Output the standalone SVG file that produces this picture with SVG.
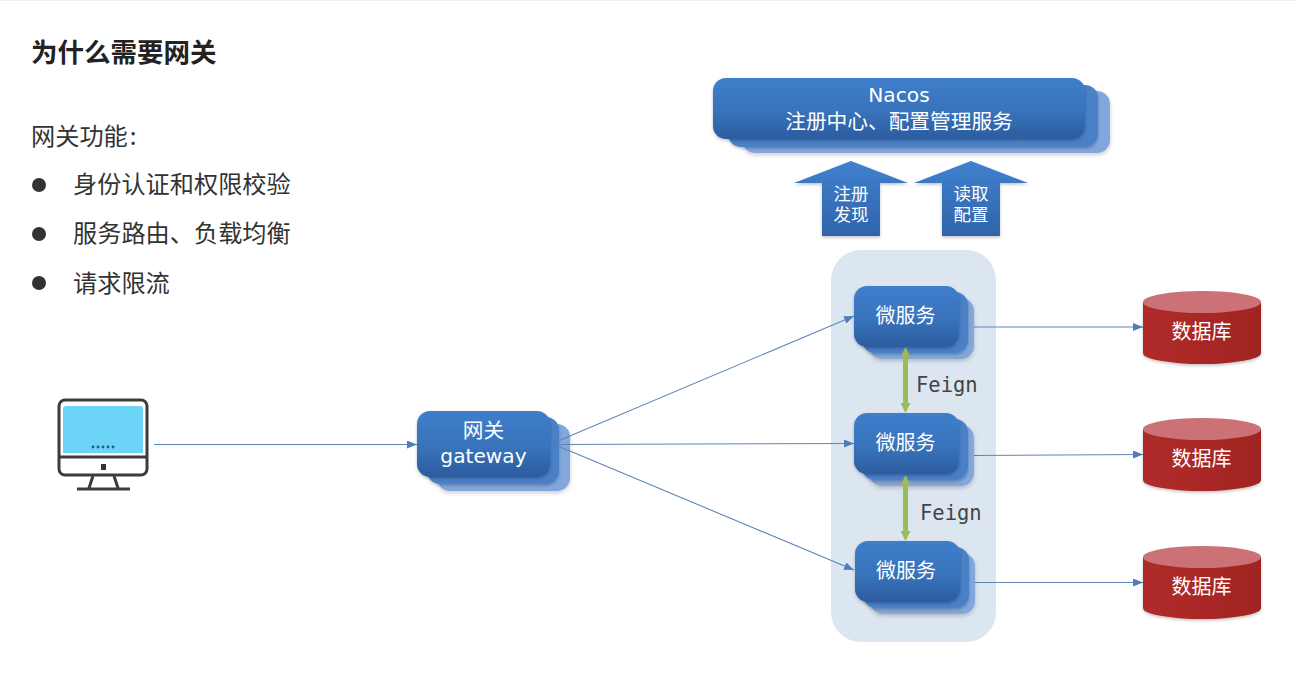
<svg xmlns="http://www.w3.org/2000/svg" width="1296" height="688" viewBox="0 0 1296 688">
<style>
text{font-family:"Noto Sans CJK SC","Noto Sans",sans-serif}
.h{font-size:26.500px;font-weight:700;fill:#222}
.b{font-size:24.200px;fill:#333}
.w{fill:#fff;text-anchor:middle}
.n{font-size:20.700px}
.l{font-family:"DejaVu Sans",sans-serif;font-size:20.200px}
.s{font-size:17.500px}
.u{font-size:20px}
.f{font-family:"DejaVu Sans Mono","Liberation Mono",monospace;font-size:20.500px;fill:#444}
.c{stroke:#5f86b8;stroke-width:1.1;fill:none;marker-end:url(#a)}
.g{stroke:#9bbb59;stroke-width:5;fill:none}
.gh{fill:#9bbb59}
.fr{fill:url(#fg);filter:url(#sh)}
.mid{fill:#4a80c8;filter:url(#sh)}
.bk{fill:#82a7dc;filter:url(#sh2)}
.ar{fill:url(#ag);filter:url(#sh)}
.dbb{fill:url(#dg);filter:url(#sh)}
.dbt{fill:#cc7175}
.m{stroke:#3c3c3c;stroke-width:3;fill:none}
</style>
<defs>
<linearGradient id="fg" x1="0" y1="0" x2="0" y2="1"><stop offset="0" stop-color="#3f7ecb"/><stop offset="0.55" stop-color="#3873bb"/><stop offset="1" stop-color="#2c5c9f"/></linearGradient>
<linearGradient id="ag" x1="0" y1="0" x2="0" y2="1"><stop offset="0" stop-color="#4081cf"/><stop offset="1" stop-color="#2f64aa"/></linearGradient>
<linearGradient id="dg" x1="0" y1="0" x2="1" y2="0"><stop offset="0" stop-color="#b02c2a"/><stop offset="0.5" stop-color="#a92826"/><stop offset="1" stop-color="#9f2422"/></linearGradient>
<filter id="sh" x="-10%" y="-10%" width="120%" height="130%"><feDropShadow dx="0" dy="1.500" stdDeviation="1.500" flood-color="#000" flood-opacity="0.25"/></filter>
<filter id="sh2" x="-10%" y="-10%" width="120%" height="130%"><feDropShadow dx="0" dy="2" stdDeviation="2" flood-color="#000" flood-opacity="0.2"/></filter>
<marker id="a" markerWidth="11" markerHeight="8" refX="10" refY="4" orient="auto" markerUnits="userSpaceOnUse"><path d="M0 0L10 4L0 8Z" fill="#4f7db8"/></marker>
</defs>
<rect width="1296" height="688" fill="#fff"/>
<rect width="1296" height="1" fill="#eee"/>
<g id="heading">
<text class="h" x="31" y="62">为什么需要网关</text>
<text class="b" x="31" y="145">网关功能<tspan dx="2">:</tspan></text>
<circle cx="39" cy="185" r="7" fill="#333"/><text class="b" x="73" y="193">身份认证和权限校验</text>
<circle cx="39" cy="234" r="7" fill="#333"/><text class="b" x="73" y="242">服务路由、负载均衡</text>
<circle cx="39" cy="283" r="7" fill="#333"/><text class="b" x="73" y="292">请求限流</text>
</g>
<g id="panel"><rect x="831" y="250" width="165" height="392" rx="30" fill="#dce6f1"/></g>
<g id="client">
<rect x="59" y="400" width="88" height="75" rx="6" fill="#fff" stroke="#3c3c3c" stroke-width="3"/>
<path d="M63 409Q63 406 66 406H140Q143 406 143 409V453H63Z" fill="#6dd3f7"/>
<path class="m" d="M59 457H147"/>
<rect x="101" y="464" width="5" height="6" fill="#333"/>
<path class="m" d="M93 476L89 488M114 476L118 488M77 489H130"/>
<g fill="#1f5f85"><circle cx="93" cy="447" r="1.400"/><circle cx="98" cy="447" r="1.400"/><circle cx="103" cy="447" r="1.400"/><circle cx="108" cy="447" r="1.400"/><circle cx="113" cy="447" r="1.400"/></g>
</g>
<g id="gateway">
<rect class="bk" x="437" y="424" width="133" height="67" rx="13"/>
<rect class="mid" x="427" y="417" width="132" height="67" rx="13"/>
<rect class="fr" x="417" y="411" width="133" height="66" rx="13"/>
<text class="w n" x="483.500" y="438">网关</text>
<text class="w l" x="483.500" y="463">gateway</text>
</g>
<g id="connectors">
<path class="c" d="M558 441L854 316"/>
<path class="c" d="M154 444.500H417"/>
<path class="c" d="M558 444.500L854 443.500"/>
<path class="c" d="M558 446L854 570"/>
<path class="c" d="M974 327H1143"/>
<path class="c" d="M974 455.500L1143 454.500"/>
<path class="c" d="M974 582.500H1143"/>
</g>
<g id="nacos">
<rect class="bk" x="742" y="91" width="368" height="62" rx="13"/>
<rect class="mid" x="728" y="85" width="370" height="62" rx="13"/>
<rect class="fr" x="713" y="78" width="372" height="61" rx="13"/>
<text class="w l" x="899" y="102">Nacos</text>
<text class="w n" x="899" y="129">注册中心、配置管理服务</text>
</g>
<g id="register">
<path class="ar" d="M851 161L908 183H880V236H822V183H794Z"/>
<text class="w s" x="851" y="200">注册</text>
<text class="w s" x="851" y="221">发现</text>
</g>
<g id="config">
<path class="ar" d="M971 161L1028 183H1000V236H942V183H914Z"/>
<text class="w s" x="971" y="200">读取</text>
<text class="w s" x="971" y="221">配置</text>
</g>
<g id="service1">
<rect class="bk" x="869" y="298" width="105" height="61" rx="13"/>
<rect class="mid" x="862" y="292" width="106" height="61" rx="13"/>
<rect class="fr" x="854" y="286" width="105" height="61" rx="13"/>
<text class="w u" x="905.500" y="323">微服务</text>
</g>
<g id="service2">
<rect class="bk" x="869" y="425" width="105" height="61" rx="13"/>
<rect class="mid" x="862" y="419" width="106" height="61" rx="13"/>
<rect class="fr" x="854" y="413" width="105" height="61" rx="13"/>
<text class="w u" x="905.500" y="450">微服务</text>
</g>
<g id="service3">
<rect class="bk" x="870" y="553" width="105" height="61" rx="13"/>
<rect class="mid" x="863" y="547" width="106" height="61" rx="13"/>
<rect class="fr" x="855" y="541" width="105" height="61" rx="13"/>
<text class="w u" x="906" y="578">微服务</text>
</g>
<g id="feign">
<path class="g" d="M905.500 352V408"/>
<path class="gh" d="M905.500 347L910.500 357H900.500ZM905.500 413L910.500 403H900.500Z"/>
<path class="g" d="M905.500 480V536"/>
<path class="gh" d="M905.500 475L910.500 485H900.500ZM905.500 541L910.500 531H900.500Z"/>
<text class="f" x="916" y="392">Feign</text>
<text class="f" x="920" y="520">Feign</text>
</g>
<g id="db1">
<path class="dbb" d="M1143 302V353A59 11 0 0 0 1261 353V302Z"/>
<ellipse class="dbt" cx="1202" cy="302" rx="59" ry="11"/>
<text class="w u" x="1201.500" y="339">数据库</text>
</g>
<g id="db2">
<path class="dbb" d="M1143 429V480A59 11 0 0 0 1261 480V429Z"/>
<ellipse class="dbt" cx="1202" cy="429" rx="59" ry="11"/>
<text class="w u" x="1201.500" y="466">数据库</text>
</g>
<g id="db3">
<path class="dbb" d="M1143 557V608A59 11 0 0 0 1261 608V557Z"/>
<ellipse class="dbt" cx="1202" cy="557" rx="59" ry="11"/>
<text class="w u" x="1201.500" y="594">数据库</text>
</g>
</svg>
